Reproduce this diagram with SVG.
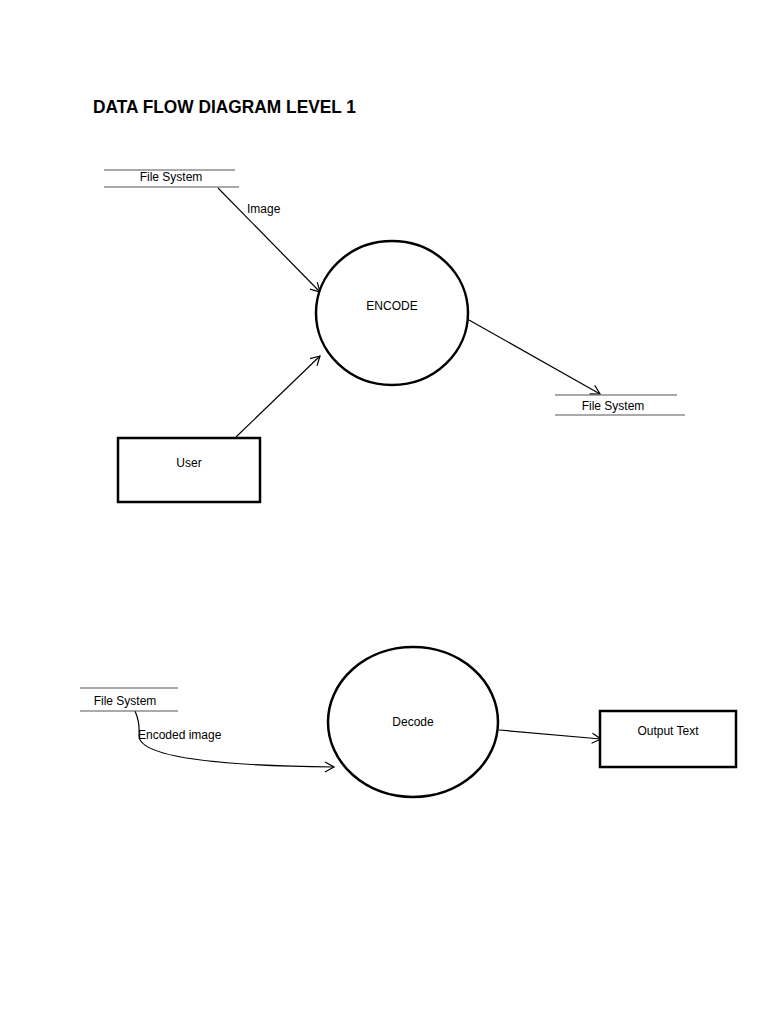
<svg xmlns="http://www.w3.org/2000/svg" width="768" height="1024" viewBox="0 0 768 1024">
<style>
text{font-family:"Liberation Sans",Arial,sans-serif;font-size:12px;fill:#000}
.t{font-size:17.5px;font-weight:bold}
.n{fill:#fff;stroke:#000;stroke-width:2.5}
.s{stroke:#555;stroke-width:1.2}
.c{fill:none;stroke:#000;stroke-width:1.2}
</style>
<defs><marker id="a" markerWidth="12" markerHeight="12" refX="10" refY="6" orient="auto" markerUnits="userSpaceOnUse"><path d="M1,1 L10,6 L1,11" fill="none" stroke="#000" stroke-width="1.2"/></marker></defs>
<rect width="768" height="1024" fill="#fff"/>
<text class="t" x="93" y="113" textLength="263" lengthAdjust="spacingAndGlyphs">DATA FLOW DIAGRAM LEVEL 1</text>
<g id="connectors">
<line class="c" x1="218" y1="188" x2="320" y2="292" marker-end="url(#a)"/>
<text x="247" y="213">Image</text>
<line class="c" x1="236" y1="437" x2="320" y2="356" marker-end="url(#a)"/>
<line class="c" x1="469" y1="320" x2="600" y2="394" marker-end="url(#a)"/>
<path class="c" d="M135,711 Q140,722 139,736 Q140,765 334,767" marker-end="url(#a)"/>
<text x="138" y="739">Encoded image</text>
<line class="c" x1="499" y1="730" x2="601" y2="739" marker-end="url(#a)"/>
</g>
<g id="fs1"><line class="s" x1="104" y1="170" x2="235" y2="170"/><line class="s" x1="104" y1="187" x2="239" y2="187"/><text x="171" y="181" text-anchor="middle">File System</text></g>
<g id="encode"><ellipse class="n" cx="392" cy="313" rx="76" ry="72"/><text x="392" y="310" text-anchor="middle">ENCODE</text></g>
<g id="fs2"><line class="s" x1="555" y1="395" x2="677" y2="395"/><line class="s" x1="555" y1="415" x2="685" y2="415"/><text x="613" y="410" text-anchor="middle">File System</text></g>
<g id="user"><rect class="n" x="118" y="438" width="142" height="64"/><text x="189" y="467" text-anchor="middle">User</text></g>
<g id="fs3"><line class="s" x1="80" y1="688" x2="178" y2="688"/><line class="s" x1="80" y1="711" x2="178" y2="711"/><text x="125" y="705" text-anchor="middle">File System</text></g>
<g id="decode"><ellipse class="n" cx="413" cy="722" rx="85" ry="75"/><text x="413" y="726" text-anchor="middle">Decode</text></g>
<g id="output"><rect class="n" x="600" y="711" width="136" height="56"/><text x="668" y="735" text-anchor="middle">Output Text</text></g>
</svg>
